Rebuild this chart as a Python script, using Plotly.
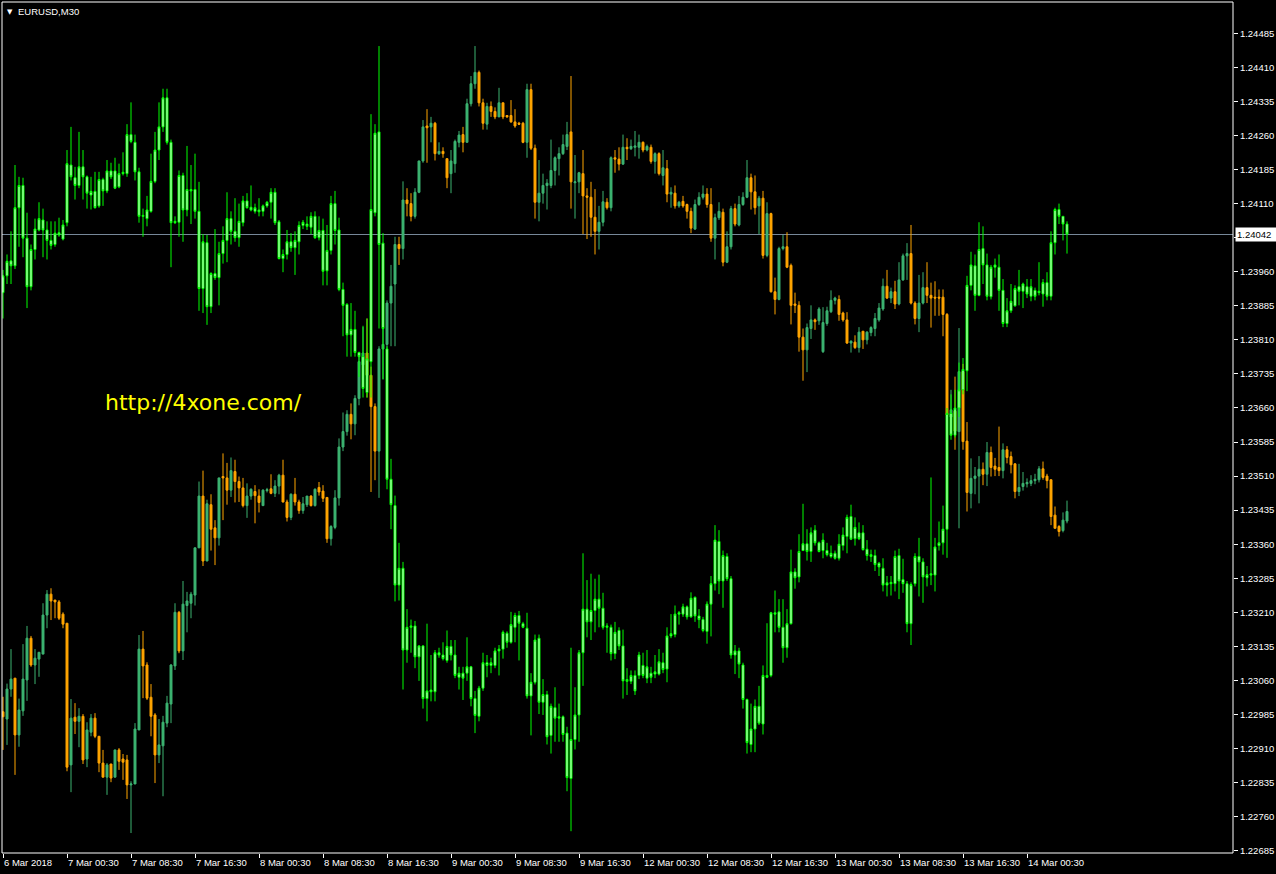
import plotly.graph_objects as go

# prices stored in points (1e-5) above 1.20000
BASE = 1.2
PT = 1e-5

# ---- seagreen / orange series ----
main_o = [2991,2975,3041,3065,2940,2993,3061,3153,3094,3107,3118,3204,3250,3237,3233,3206,3186,2874,2979,2970,
2981,2887,2946,2977,2937,2878,2847,2876,2847,2907,2887,2885,2830,2832,2951,3129,3094,3023,2984,2896,
2916,2966,3008,3092,3210,3125,3225,3230,3248,3352,3466,3323,3447,3396,3374,3509,3506,3479,3520,3498,
3484,3445,3466,3476,3466,3445,3478,3482,3472,3488,3512,3453,3419,3470,3453,3434,3447,3466,3445,3485,
3477,3463,3372,3397,3462,3574,3608,3646,3625,3681,3755,3781,3732,3663,3565,3790,3800,3891,3933,4020,
4011,4118,4110,4082,4135,4204,4281,4279,4287,4220,4225,4209,4176,4198,4245,4262,4245,4330,4374,4399,
4332,4285,4324,4313,4301,4332,4304,4304,4290,4287,4287,4245,4361,4232,4113,4133,4150,4150,4183,4209,
4220,4236,4268,4156,4158,4176,4127,4124,4080,4049,4069,4113,4101,4211,4208,4197,4234,4231,4234,4234,
4245,4228,4234,4203,4220,4172,4187,4131,4133,4105,4115,4108,4093,4054,4108,4124,4131,4108,4034,4079,
4091,3981,4015,4099,4063,4108,4124,4167,4136,4105,4122,3996,4088,3916,3899,4011,4015,3974,3889,3886,
3816,3788,3835,3854,3852,3784,3846,3872,3897,3899,3869,3854,3803,3805,3793,3829,3810,3826,3835,3854,
3878,3928,3902,3916,3889,3942,3995,4000,3891,3857,3891,3925,3908,3904,3904,3904,3866,3640,3653,3608,
3740,3587,3472,3505,3510,3525,3514,3562,3532,3529,3522,3568,3553,3537,3476,3487,3493,3494,3500,3502,
3526,3510,3502,3424,3399,3390,3411]
main_h = [3024,3053,3129,3065,3020,3140,3180,3158,3129,3122,3230,3259,3263,3237,3237,3210,3186,3019,3010,2999,
2986,2968,2986,2988,2937,2907,2878,2876,2907,2911,2898,2896,2838,2966,3160,3169,3100,3052,2988,2975,
2982,3026,3096,3230,3213,3279,3255,3255,3352,3498,3522,3458,3470,3413,3506,3560,3539,3551,3546,3509,
3506,3494,3483,3490,3481,3481,3484,3514,3501,3515,3546,3458,3472,3506,3458,3464,3466,3468,3483,3497,
3490,3463,3402,3479,3593,3650,3655,3670,3688,3781,3838,3857,3751,3670,3796,3838,3897,3975,4037,4037,
4159,4144,4133,4144,4204,4294,4318,4301,4290,4245,4234,4209,4228,4251,4270,4279,4341,4391,4457,4403,
4341,4332,4335,4322,4365,4332,4305,4338,4318,4290,4290,4374,4374,4240,4206,4176,4164,4251,4214,4234,
4262,4290,4391,4217,4180,4228,4144,4158,4142,4105,4138,4122,4214,4228,4234,4262,4254,4251,4270,4262,
4247,4240,4240,4223,4223,4228,4206,4146,4150,4116,4127,4110,4101,4119,4135,4150,4144,4144,4088,4113,
4099,4049,4105,4110,4127,4135,4206,4176,4172,4127,4138,4113,4090,3947,4015,4041,4047,3978,3914,3895,
3835,3846,3886,3857,3882,3882,3883,3919,3905,3908,3872,3871,3809,3820,3838,3829,3829,3840,3869,3891,
3945,3964,3925,3940,3981,4000,4023,4063,3895,3953,3959,3981,3936,3939,3921,3921,3869,3700,3729,3836,
3757,3629,3549,3530,3554,3540,3585,3575,3550,3619,3582,3576,3564,3538,3537,3519,3505,3512,3515,3532,
3542,3515,3502,3443,3402,3430,3456]
main_l = [2907,2918,3024,2852,2914,2982,3015,3090,3052,3068,3118,3175,3193,3197,3193,3175,2860,2814,2942,2913,
2876,2869,2937,2933,2858,2847,2808,2836,2847,2863,2841,2799,2724,2832,2951,3021,3017,2937,2834,2878,
2805,2957,2966,3083,3120,3105,3166,3197,3225,3352,3312,3323,3346,3314,3357,3413,3447,3464,3452,3453,
3441,3418,3458,3406,3430,3444,3474,3470,3464,3470,3452,3410,3413,3445,3427,3427,3442,3443,3443,3467,
3453,3363,3357,3393,3445,3565,3599,3591,3600,3666,3706,3683,3475,3501,3462,3723,3780,3796,3796,3975,
3987,4082,4071,4077,4133,4200,4200,4245,4205,4217,4211,4144,4133,4178,4234,4223,4245,4324,4363,4324,
4273,4273,4301,4296,4301,4296,4299,4288,4277,4283,4243,4211,4228,4077,4071,4110,4097,4144,4150,4172,
4217,4228,4099,4077,4133,4043,4032,4037,3998,4009,4060,4097,4093,4178,4183,4195,4206,4228,4214,4209,
4223,4225,4198,4176,4172,4150,4113,4101,4099,4101,4101,4077,4045,4052,4105,4119,4101,4026,3987,4074,
3972,3979,4009,4060,4060,4105,4122,4097,4086,4043,3989,3992,3914,3866,3897,4007,3968,3844,3869,3784,
3720,3739,3812,3832,3843,3781,3841,3869,3888,3852,3850,3801,3782,3790,3782,3790,3800,3818,3818,3850,
3874,3900,3891,3878,3886,3940,3942,3888,3844,3827,3888,3891,3837,3863,3863,3818,3641,3610,3568,3395,
3568,3432,3439,3470,3450,3490,3488,3509,3510,3510,3505,3538,3516,3461,3466,3478,3485,3488,3492,3496,
3502,3483,3402,3395,3377,3386,3406]
main_c = [2980,3041,3063,2940,2995,3063,3153,3094,3109,3122,3204,3250,3235,3233,3197,3184,2869,2977,2970,2981,
2885,2951,2977,2937,2878,2847,2874,2845,2907,2882,2880,2830,2832,2953,3129,3092,3021,2981,2896,2918,
2968,3010,3094,3210,3125,3228,3235,3250,3352,3466,3323,3449,3393,3374,3506,3506,3479,3522,3498,3484,
3445,3466,3481,3467,3452,3479,3480,3472,3488,3512,3453,3419,3470,3453,3434,3449,3466,3445,3481,3475,
3461,3372,3399,3462,3574,3608,3646,3625,3681,3762,3781,3732,3663,3565,3790,3800,3891,3928,4020,4011,
4118,4110,4082,4135,4204,4279,4277,4287,4220,4225,4220,4167,4204,4247,4261,4245,4330,4374,4399,4332,
4287,4324,4313,4301,4332,4301,4301,4290,4281,4285,4245,4361,4232,4113,4133,4150,4155,4183,4211,4220,
4240,4262,4158,4158,4178,4127,4124,4080,4049,4069,4114,4101,4211,4208,4197,4234,4231,4236,4237,4245,
4228,4236,4203,4220,4176,4189,4131,4135,4105,4113,4105,4093,4056,4108,4124,4131,4108,4034,4079,4093,
3981,4015,4099,4065,4108,4124,4167,4136,4101,4122,3996,4088,3916,3899,4011,4015,3970,3886,3886,3816,
3788,3837,3854,3850,3878,3848,3874,3897,3902,3866,3854,3803,3807,3793,3827,3810,3827,3837,3857,3880,
3928,3902,3916,3889,3942,3995,4000,3891,3857,3891,3925,3908,3902,3902,3902,3866,3645,3656,3609,3740,
3586,3474,3505,3510,3525,3514,3562,3529,3525,3522,3568,3551,3535,3476,3485,3494,3496,3500,3503,3526,
3507,3500,3421,3395,3388,3413,3432]

# ---- lime series ----
lime_o = [3914,3951,3984,3973,4101,4150,4034,3927,4009,4052,4074,4052,4029,4020,4046,4032,4068,4195,4167,4150,
4191,4169,4129,4137,4105,4163,4138,4182,4182,4147,4176,4176,4262,4245,4180,4082,4077,4093,4159,4228,
4279,4343,4245,4068,4069,4172,4096,4141,4141,4093,3923,4024,3883,3956,3947,4000,4029,4077,4049,4035,
4068,4116,4102,4093,4096,4093,4105,4113,4135,4070,3989,3998,4026,4013,4026,4062,4065,4058,4082,4035,
4051,3962,4007,4110,4052,3921,3888,3821,3833,3782,3773,3694,3762,4090,4268,4023,3790,3503,3445,3270,
3307,3127,3177,3180,3112,3136,3020,3039,3035,3121,3116,3104,3135,3116,3067,3076,3076,3090,3020,2981,
3043,3099,3093,3093,3125,3129,3164,3144,3177,3203,3185,3175,3026,3056,3153,3012,3029,2939,3000,2977,
2980,2944,2844,2930,2984,3121,3217,3189,3214,3239,3219,3177,3177,3119,3170,3136,3062,3058,3071,3071,
3093,3065,3076,3074,3074,3099,3085,3158,3161,3206,3206,3222,3200,3243,3202,3194,3168,3228,3273,3366,
3279,3333,3284,3116,3125,3094,3018,2919,2953,3003,2964,3071,3071,3209,3211,3177,3132,3185,3299,3288,
3346,3361,3344,3391,3363,3346,3346,3333,3340,3329,3357,3377,3421,3372,3385,3385,3349,3337,3335,3318,
3307,3270,3276,3273,3335,3282,3273,3185,3273,3333,3321,3286,3295,3292,3357,3363,3393,3648,3600,3660,
3700,3742,3930,3973,3908,4011,3975,3905,3970,3970,3919,3846,3874,3885,3927,3917,3927,3906,3919,3914,
3911,3936,3906,4024,4097,4082,4065]
lime_h = [3964,3998,4049,4195,4169,4167,4090,4020,4077,4113,4099,4071,4071,4071,4079,4074,4228,4279,4191,4268,
4228,4172,4169,4180,4180,4167,4206,4200,4211,4198,4223,4285,4333,4262,4189,4099,4127,4220,4268,4333,
4363,4363,4251,4082,4183,4178,4237,4195,4220,4158,4043,4041,3959,4054,4026,4060,4135,4093,4122,4110,
4127,4133,4150,4110,4122,4108,4116,4144,4144,4074,4009,4052,4045,4049,4071,4074,4082,4091,4093,4082,
4077,4063,4127,4138,4079,3936,3891,3891,3874,3784,3841,3857,4307,4285,4457,4045,3796,3548,3467,3363,
3321,3217,3194,3191,3138,3138,3185,3116,3127,3132,3144,3170,3149,3149,3090,3090,3155,3092,3037,3048,
3121,3116,3110,3132,3138,3170,3168,3211,3209,3213,3189,3209,3076,3161,3161,3063,3037,3009,3045,3009,
2983,2958,3132,3045,3127,3340,3281,3295,3284,3293,3253,3186,3183,3189,3177,3172,3087,3082,3082,3123,
3121,3127,3090,3116,3129,3121,3177,3206,3225,3213,3229,3225,3254,3245,3217,3200,3234,3290,3402,3391,
3346,3340,3290,3138,3132,3099,3020,3009,3018,3048,3093,3186,3211,3258,3239,3239,3217,3348,3307,3382,
3449,3393,3397,3402,3366,3384,3363,3357,3346,3382,3397,3425,3447,3419,3408,3402,3369,3348,3348,3321,
3329,3290,3290,3346,3350,3328,3279,3276,3340,3374,3329,3312,3507,3374,3410,3445,3660,3690,3700,3760,
3770,3951,4004,3998,4069,4060,4000,3975,3989,3998,3944,3902,3933,3930,3964,3936,3944,3944,3925,3981,
3944,3959,4049,4101,4110,4082,4071]
lime_l = [3857,3933,3933,3966,4015,3992,3880,3919,3987,4049,3992,3987,4009,4015,4037,4029,4060,4161,4119,4144,
4119,4099,4097,4099,4101,4105,4133,4164,4142,4144,4172,4169,4243,4161,4068,4037,4060,4090,4155,4206,
4268,4240,3970,4065,4037,4026,4082,4065,4077,3874,3869,3843,3869,3942,3886,3978,3981,4020,4026,4015,
4060,4099,4093,4088,4082,4082,4101,4077,4063,3987,3959,3987,4004,3953,3998,4054,4052,4043,4032,4029,
3930,3930,3998,4020,3917,3818,3773,3773,3773,3728,3683,3683,3683,4082,3835,3723,3481,3393,3234,3236,
3040,3099,3121,3087,3059,2998,2970,3014,3014,3110,3104,3099,3104,3065,3040,3017,3059,3003,2944,2970,
3037,3067,3076,3087,3071,3108,3132,3141,3144,3104,3175,3020,2939,3051,2986,2984,2919,2899,2925,2925,
2925,2816,2728,2908,2925,3048,3155,3149,3166,3177,3172,3121,3104,3107,3127,3020,3028,3052,3028,3063,
3065,3054,3054,3065,3071,3076,3056,3153,3155,3183,3200,3194,3198,3189,3175,3166,3141,3157,3258,3250,
3220,3279,3108,3074,3065,2998,2899,2902,2902,2962,2941,3065,3067,3166,3166,3099,3110,3183,3262,3276,
3346,3324,3321,3357,3342,3329,3333,3329,3326,3324,3346,3340,3369,3357,3369,3346,3324,3321,3301,3290,
3256,3245,3247,3256,3239,3253,3166,3138,3267,3245,3231,3267,3270,3256,3346,3337,3330,3590,3595,3640,
3690,3697,3919,3874,3906,3933,3897,3899,3947,3874,3838,3838,3869,3883,3886,3880,3902,3895,3897,3908,
3883,3897,3897,3998,4065,4029,4000]
lime_c = [3951,3983,3973,4101,4150,4034,3927,4009,4054,4077,4052,4029,4018,4045,4041,4063,4198,4169,4150,4191,
4169,4133,4137,4101,4163,4138,4182,4169,4144,4176,4179,4262,4247,4180,4082,4084,4096,4159,4228,4279,
4343,4245,4068,4071,4172,4096,4141,4138,4093,3923,4026,3883,3956,3947,4000,4029,4077,4049,4035,4071,
4116,4101,4096,4101,4092,4105,4113,4135,4068,3989,3998,4026,4013,4029,4062,4069,4060,4082,4035,4051,
3961,4007,4110,4051,3921,3886,3821,3833,3782,3773,3703,3768,4097,4265,4020,3835,3503,3447,3270,3307,
3127,3177,3180,3112,3136,3020,3037,3035,3121,3116,3108,3135,3116,3071,3076,3065,3090,3020,2983,3043,
3099,3093,3099,3125,3129,3166,3144,3183,3203,3186,3177,3026,3056,3149,3012,3029,2936,3003,2977,2980,
2941,2846,2930,2984,3121,3217,3189,3214,3239,3219,3177,3180,3119,3166,3136,3059,3058,3071,3037,3116,
3071,3090,3067,3079,3101,3084,3158,3163,3206,3209,3222,3200,3241,3202,3194,3170,3228,3273,3369,3279,
3335,3284,3116,3125,3096,3018,2923,2953,3003,2966,3071,3067,3209,3206,3177,3132,3185,3299,3286,3344,
3361,3344,3385,3363,3344,3369,3337,3340,3329,3360,3380,3419,3371,3397,3372,3348,3335,3333,3315,3310,
3270,3275,3273,3333,3279,3273,3185,3271,3333,3321,3288,3293,3292,3354,3363,3393,3648,3600,3660,3700,
3745,3930,3975,3908,4009,3975,3906,3970,3975,3919,3846,3874,3895,3923,3917,3933,3911,3927,3906,3917,
3936,3906,4024,4097,4082,4065,4043]

time_labels = ["6 Mar 2018", "7 Mar 00:30", "7 Mar 08:30", "7 Mar 16:30", "8 Mar 00:30",
               "8 Mar 08:30", "8 Mar 16:30", "9 Mar 00:30", "9 Mar 08:30", "9 Mar 16:30",
               "12 Mar 00:30", "12 Mar 08:30", "12 Mar 16:30", "13 Mar 00:30", "13 Mar 08:30",
               "13 Mar 16:30", "14 Mar 00:30"]
label_bars = [16 * k for k in range(len(time_labels))]
price_ticks = [1.22685 + 0.00075 * k for k in range(25)]
current_price = 1.24042


def px(vals):
    return [round(BASE + v * PT, 5) for v in vals]


n = len(main_c)
xs = list(range(n))

SEA = "#3CB371"
ORG = "#FFA500"
LIME = "#00FF00"
FONT = "Liberation Sans"

fig = go.Figure()
fig.add_trace(go.Candlestick(
    x=xs, open=px(main_o), high=px(main_h), low=px(main_l), close=px(main_c),
    increasing=dict(line=dict(color=SEA, width=1), fillcolor=SEA),
    decreasing=dict(line=dict(color=ORG, width=1), fillcolor=ORG),
    whiskerwidth=0, hoverinfo="skip", showlegend=False))
fig.add_trace(go.Candlestick(
    x=xs, open=px(lime_o), high=px(lime_h), low=px(lime_l), close=px(lime_c),
    increasing=dict(line=dict(color=LIME, width=1), fillcolor="#EFFFEF"),
    decreasing=dict(line=dict(color=LIME, width=1), fillcolor="#EFFFEF"),
    whiskerwidth=0, hoverinfo="skip", showlegend=False))

annotations = []
for b, t in zip(label_bars, time_labels):
    annotations.append(dict(x=b, y=0, xref="x", yref="paper", text=t, showarrow=False,
                            xanchor="left", yanchor="top", xshift=-1, yshift=-2,
                            font=dict(family=FONT, size=9.5, color="white")))
annotations.append(dict(x=0, y=1, xref="paper", yref="paper", text="▼", showarrow=False,
                        xanchor="left", yanchor="top", xshift=3, yshift=-4,
                        font=dict(family="DejaVu Sans", size=7, color="white")))
annotations.append(dict(x=0, y=1, xref="paper", yref="paper", text="EURUSD,M30", showarrow=False,
                        xanchor="left", yanchor="top", xshift=14, yshift=-2,
                        font=dict(family=FONT, size=9.5, color="white")))
annotations.append(dict(x=0, y=1.23672, xref="paper", yref="y", text="http://4xone.com/", showarrow=False,
                        xanchor="left", yanchor="middle", xshift=101,
                        font=dict(family="DejaVu Sans", size=22, color="#FFFF00")))
annotations.append(dict(x=1, y=current_price, xref="paper", yref="y", text="1.24042", showarrow=False,
                        xanchor="left", yanchor="middle", xshift=2, width=38, align="left",
                        bgcolor="white", borderpad=1,
                        font=dict(family=FONT, size=9.5, color="black")))

fig.update_layout(
    width=1276, height=874,
    margin=dict(l=2, r=43, t=2, b=21),
    paper_bgcolor="black", plot_bgcolor="black",
    boxgap=0.3,
    showlegend=False,
    annotations=annotations,
    shapes=[
        dict(type="line", xref="paper", yref="y", x0=0, x1=1, y0=current_price, y1=current_price,
             line=dict(color="#778899", width=1), layer="below"),
        dict(type="rect", xref="paper", yref="paper", x0=0, x1=1, y0=0, y1=1,
             line=dict(color="white", width=1), layer="above"),
    ],
    xaxis=dict(range=[-0.25, 307.5], showgrid=False, zeroline=False, rangeslider=dict(visible=False),
               tickvals=label_bars, showticklabels=False, ticks="outside", ticklen=4,
               tickcolor="white", tickwidth=1, fixedrange=True),
    yaxis=dict(range=[1.22680, 1.24554], side="right", showgrid=False, zeroline=False,
               tickvals=price_ticks, ticktext=[f"{v:.5f}" for v in price_ticks],
               ticks="outside", ticklen=4, tickcolor="white", tickwidth=1,
               tickfont=dict(family=FONT, size=9.5, color="white"), fixedrange=True),
)

fig.write_html("out.html", config={"displayModeBar": False},
               post_script="document.body.style.margin='0';document.body.style.background='black';")
